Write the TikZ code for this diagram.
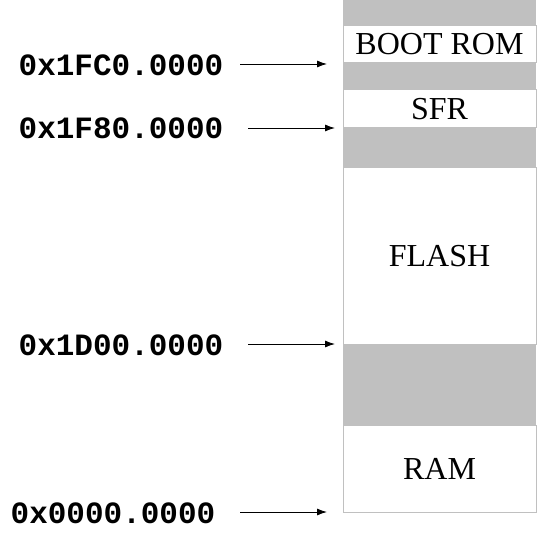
\documentclass[tikz,border=0pt]{standalone}
\usepackage{fontspec}
\setmainfont{Liberation Serif}
\setmonofont{Liberation Mono}
\usetikzlibrary{arrows.meta}
\definecolor{memgray}{HTML}{C0C0C0}
\begin{document}
\begin{tikzpicture}[x=1pt,y=-1pt,
  region/.style={draw=memgray, line width=1pt, fill=white, minimum width=193pt, inner sep=0pt, font=\fontsize{32}{32}\selectfont},
  addr/.style={inner sep=0pt, font=\ttfamily\bfseries\fontsize{31}{31}\selectfont},
  ptr/.style={line width=0.9pt, -{Latex[length=10pt,width=7pt]}}]
\useasboundingbox (0,0) rectangle (537,537);
\fill[memgray] (343,0) rectangle (536,512);
\node[region, minimum height=37pt] (boot) at (439.5,44.5) {BOOT ROM};
\node[region, minimum height=38pt] (sfr) at (439.5,109) {SFR};
\node[region, minimum height=176pt] (flash) at (439.5,256) {FLASH};
\node[region, minimum height=87pt] (ram) at (439.5,468.5) {RAM};
\node[addr] (l1) at (121,65) {0x1FC0.0000};
\node[addr] (l2) at (121,128) {0x1F80.0000};
\node[addr] (l3) at (121,345) {0x1D00.0000};
\node[addr] (l4) at (113,513) {0x0000.0000};
\coordinate (a1s) at (240,64);  \coordinate (a1e) at (327,64);
\coordinate (a2s) at (248,128); \coordinate (a2e) at (335,128);
\coordinate (a3s) at (248,344); \coordinate (a3e) at (335,344);
\coordinate (a4s) at (240,512); \coordinate (a4e) at (327,512);
\draw[ptr] (a1s) -- (a1e);
\draw[ptr] (a2s) -- (a2e);
\draw[ptr] (a3s) -- (a3e);
\draw[ptr] (a4s) -- (a4e);
\end{tikzpicture}
\end{document}
